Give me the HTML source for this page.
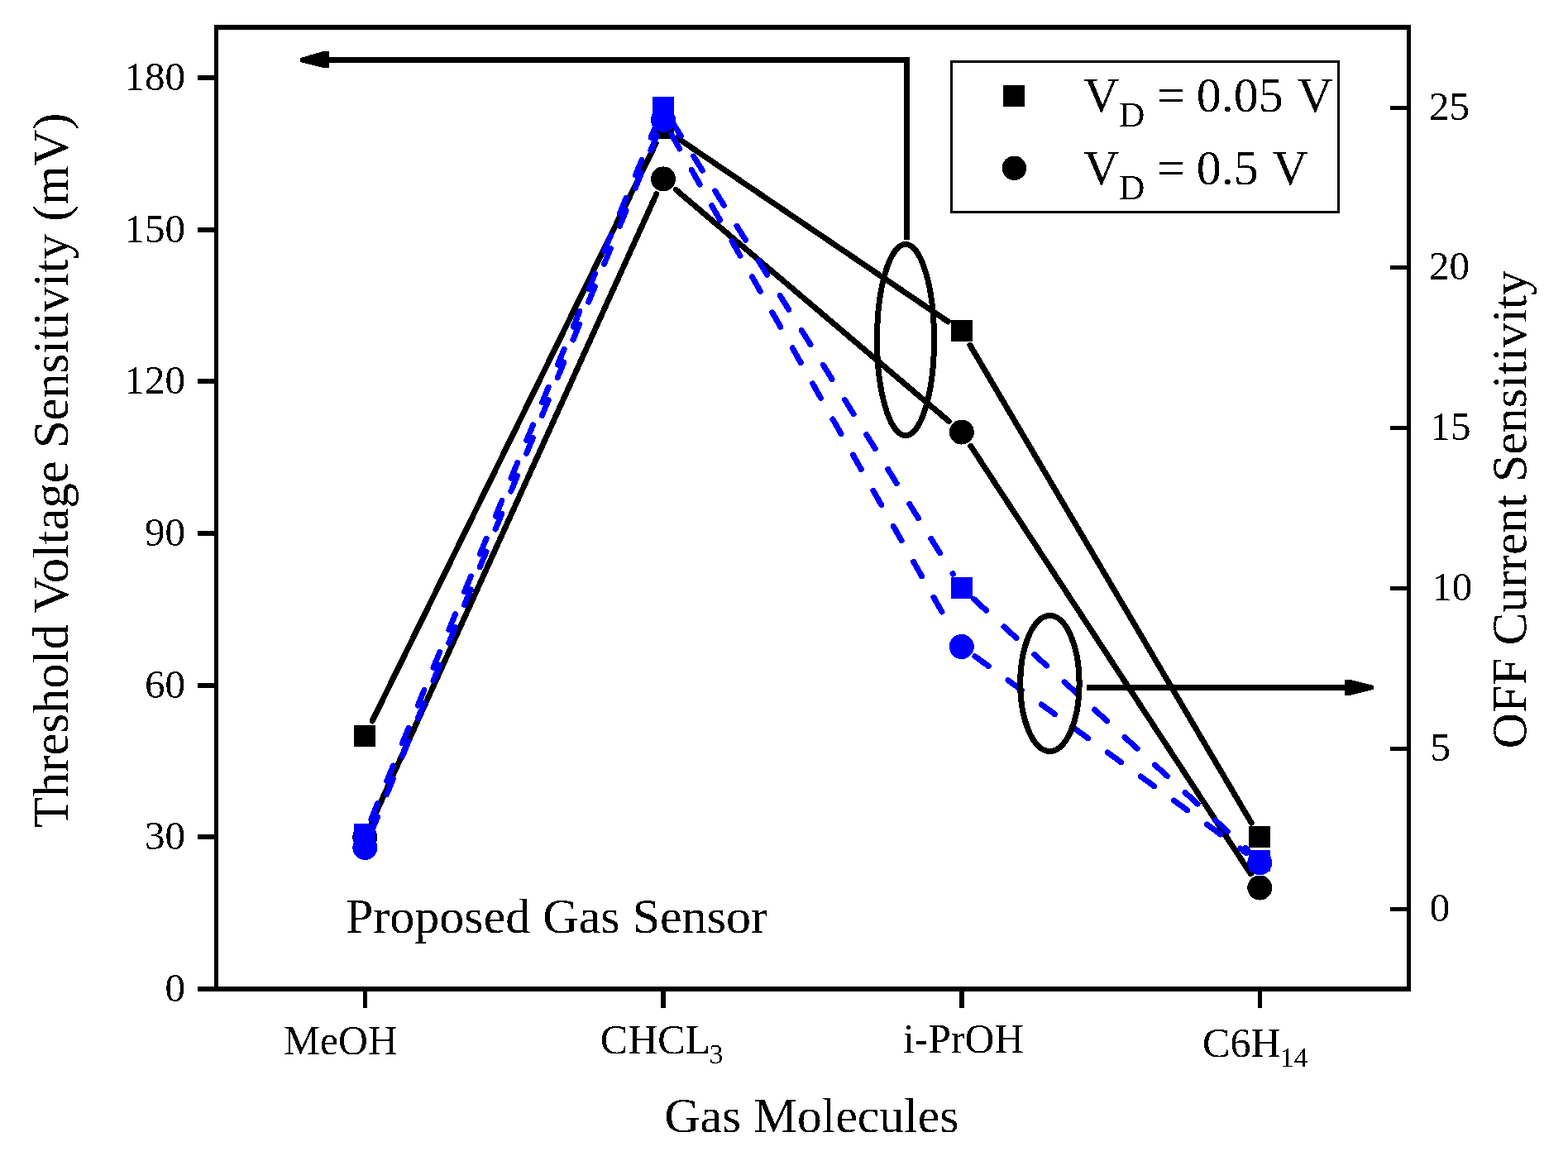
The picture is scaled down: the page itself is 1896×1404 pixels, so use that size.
<!DOCTYPE html>
<html><head><meta charset="utf-8"><title>Gas sensor sensitivity chart</title>
<style>
html,body{margin:0;padding:0;background:#fff;width:1896px;height:1404px;overflow:hidden;}
svg{display:block;}
text{font-family:"Liberation Serif","Times New Roman",serif;fill:#000;}
.tk{font-size:49px;}
.tt{font-size:60px;}
.lg{font-size:60px;}
</style></head><body>
<svg width="1896" height="1404" viewBox="0 0 1896 1404" shape-rendering="crispEdges">
<defs><filter id="al" x="-5%" y="-20%" width="110%" height="140%"><feComponentTransfer><feFuncA type="discrete" tableValues="0 1"/></feComponentTransfer></filter></defs>
<rect width="1896" height="1404" fill="#fff"/>
<rect x="259" y="30" width="1447" height="6"/>
<rect x="239" y="1193" width="1467" height="6"/>
<rect x="259" y="30" width="5" height="1169"/>
<rect x="1701" y="30" width="5" height="1169"/>
<rect x="239" y="1193" width="20" height="6"/>
<rect x="239" y="1009.33" width="20" height="6"/>
<rect x="239" y="825.67" width="20" height="6"/>
<rect x="239" y="642" width="20" height="6"/>
<rect x="239" y="458.34" width="20" height="6"/>
<rect x="239" y="274.67" width="20" height="6"/>
<rect x="239" y="91" width="20" height="6"/>
<rect x="1681" y="1097" width="20" height="5"/>
<rect x="1681" y="903.1" width="20" height="5"/>
<rect x="1681" y="709.2" width="20" height="5"/>
<rect x="1681" y="515.3" width="20" height="5"/>
<rect x="1681" y="321.4" width="20" height="5"/>
<rect x="1681" y="127.5" width="20" height="5"/>
<rect x="438.55" y="1199" width="5.5" height="20"/>
<rect x="799.25" y="1199" width="5.5" height="20"/>
<rect x="1160.05" y="1199" width="5.5" height="20"/>
<rect x="1520.55" y="1199" width="5.5" height="20"/>
<path d="M450.11 871.94L793.19 173.18 M818.55 166.46L1146.25 388.88 M1172.95 417.35L1513.15 995.1" fill="none" stroke="#000" stroke-width="7" stroke-linecap="round"/>
<path d="M449.56 994.12L793.74 234.66 M817.25 229.39L1147.55 509.62 M1173.75 539.29L1512.35 1056.82" fill="none" stroke="#000" stroke-width="7" stroke-linecap="round"/>
<rect x="428.3" y="876.89" width="26" height="26"/>
<rect x="789" y="142.23" width="26" height="26"/>
<rect x="1149.8" y="387.11" width="26" height="26"/>
<rect x="1510.3" y="999.33" width="26" height="26"/>
<circle cx="441.3" cy="1012.33" r="15"/>
<circle cx="802" cy="216.45" r="15"/>
<circle cx="1162.8" cy="522.56" r="15"/>
<circle cx="1523.3" cy="1073.56" r="15"/>
<path d="M448.89 990.5L794.41 148.5" fill="none" stroke="#00f" stroke-width="7" stroke-linecap="round" stroke-dasharray="20.2 29.3"/>
<path d="M812.55 146.99L1152.25 694.01" fill="none" stroke="#00f" stroke-width="7" stroke-linecap="round" stroke-dasharray="20.2 29.3"/>
<path d="M1177.55 724.5L1508.55 1027.5" fill="none" stroke="#00f" stroke-width="7" stroke-linecap="round" stroke-dasharray="20.2 29.3"/>
<path d="M448.89 1006.39L794.41 163.51" fill="none" stroke="#00f" stroke-width="7" stroke-linecap="round" stroke-dasharray="20.2 29.3"/>
<path d="M811.86 162.4L1152.94 764.6" fill="none" stroke="#00f" stroke-width="7" stroke-linecap="round" stroke-dasharray="20.2 29.3"/>
<path d="M1178.99 793.74L1507.11 1031.56" fill="none" stroke="#00f" stroke-width="7" stroke-linecap="round" stroke-dasharray="20.2 29.3"/>
<rect x="428.3" y="996" width="26" height="26" fill="#00f"/>
<rect x="789" y="117" width="26" height="26" fill="#00f"/>
<rect x="1149.8" y="698" width="26" height="26" fill="#00f"/>
<rect x="1510.3" y="1028" width="26" height="26" fill="#00f"/>
<circle cx="441.3" cy="1024.9" r="15" fill="#00f"/>
<circle cx="802" cy="145" r="15" fill="#00f"/>
<circle cx="1162.8" cy="782" r="15" fill="#00f"/>
<circle cx="1523.3" cy="1043.3" r="15" fill="#00f"/>
<ellipse cx="1095" cy="411" rx="34.5" ry="115.5" fill="none" stroke="#000" stroke-width="7"/>
<ellipse cx="1269.4" cy="826.5" rx="35.7" ry="82" fill="none" stroke="#000" stroke-width="7"/>
<path d="M1096.4 290V72.4H396" fill="none" stroke="#000" stroke-width="7"/>
<path d="M363 70.1L391.5 61.9H397.6V82H391.5L363 74.9Z"/>
<path d="M1314 831.5H1628" fill="none" stroke="#000" stroke-width="6.5"/>
<path d="M1626 822H1632.5L1661 829V833.8L1632.5 841H1626Z"/>
<rect x="1150.5" y="74.5" width="468" height="182" fill="none" stroke="#000" stroke-width="3"/>
<rect x="1213" y="103" width="26" height="26"/>
<circle cx="1226.4" cy="203.2" r="14.7"/>
<g filter="url(#al)">
<text x="224" y="1211" class="tk" text-anchor="end">0</text>
<text x="224" y="1027.33" class="tk" text-anchor="end">30</text>
<text x="224" y="843.67" class="tk" text-anchor="end">60</text>
<text x="224" y="660" class="tk" text-anchor="end">90</text>
<text x="224" y="476.34" class="tk" text-anchor="end">120</text>
<text x="224" y="292.67" class="tk" text-anchor="end">150</text>
<text x="224" y="109" class="tk" text-anchor="end">180</text>
<text x="1728.8" y="1114" class="tk">0</text>
<text x="1729.6" y="920.1" class="tk">5</text>
<text x="1731.3" y="726.2" class="tk">10</text>
<text x="1729.6" y="532.3" class="tk">15</text>
<text x="1728" y="338.4" class="tk">20</text>
<text x="1728" y="144.5" class="tk">25</text>
<text x="1310" y="135.2" class="lg">V<tspan font-size="43" dy="17.5">D</tspan><tspan dy="-17.5"> =</tspan><tspan dx="-1.4"> 0.05</tspan><tspan dx="2.7"> V</tspan></text>
<text x="1310" y="223.2" class="lg">V<tspan font-size="43" dy="17.5">D</tspan><tspan dy="-17.5"> =</tspan><tspan dx="-1.4"> 0.5</tspan><tspan dx="2.7"> V</tspan></text>
<text x="343" y="1274.6" class="tk" style="font-size:49.6px">MeOH</text>
<text x="725.8" y="1273.7" class="tk" style="font-size:50px">CHCL<tspan font-size="34" dy="12" dx="-1.6">3</tspan></text>
<text x="1092" y="1272.7" class="tk" style="font-size:49.6px">i-PrOH</text>
<text x="1454" y="1277.7" class="tk" style="font-size:50.1px">C6H<tspan font-size="34" dy="12.5" dx="-0.8">14</tspan></text>
<text x="803.5" y="1368.6" class="tt" style="font-size:59.6px">Gas Molecules</text>
<text x="418" y="1128.4" class="tt">Proposed Gas Sensor</text>
<text transform="translate(82 1001) rotate(-90)" class="tt" style="font-size:60.6px">Threshold Voltage Sensitivity (mV)</text>
<text transform="translate(1845.3 905.3) rotate(-90)" class="tt" style="font-size:59.8px">OFF Current Sensitivity</text>
</g>
</svg>
</body></html>
